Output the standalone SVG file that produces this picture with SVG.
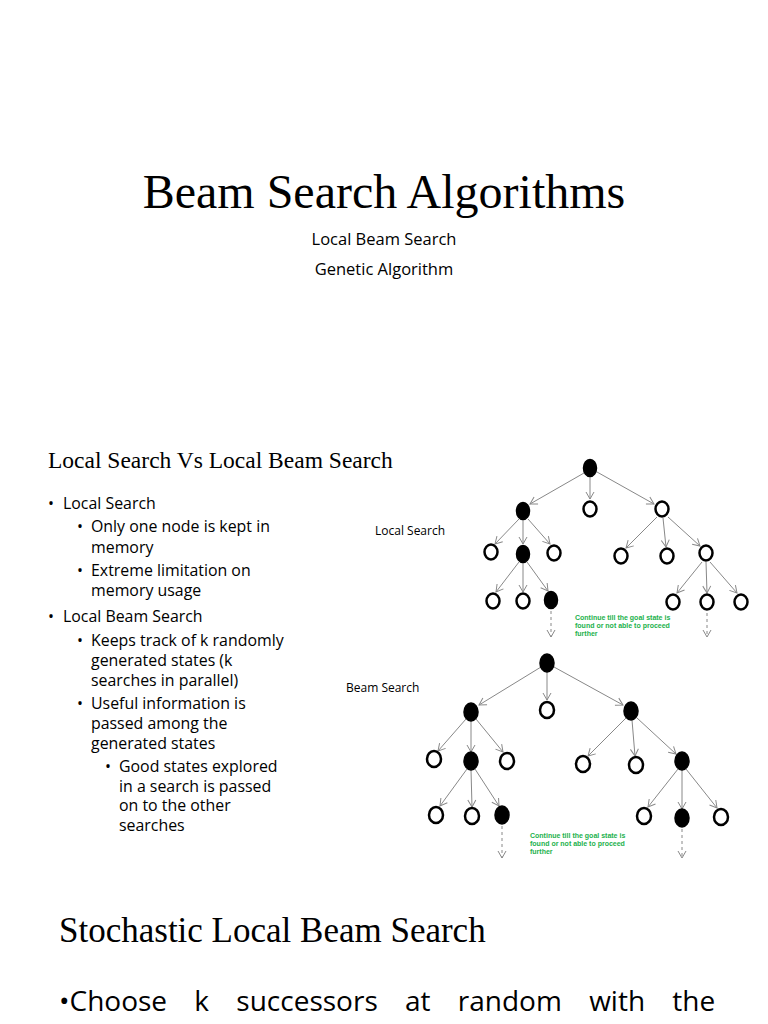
<svg xmlns="http://www.w3.org/2000/svg" width="768" height="1024" viewBox="0 0 768 1024">
<style>
.t{font-family:"Liberation Serif",serif;fill:#000}
.s{font-family:"Open Sans","Liberation Sans",sans-serif;fill:#000}
.f{fill:#000;stroke:#000;stroke-width:1.5}
.o{fill:#fff;stroke:#000;stroke-width:2.5}
.e{stroke:#888;stroke-width:1;fill:none;marker-end:url(#a)}
.d{stroke:#888;stroke-width:1;fill:none;stroke-dasharray:3,3;marker-end:url(#a)}
.g{font-family:"Liberation Sans",sans-serif;font-size:7px;font-weight:bold;fill:#22b14c}
</style>
<defs><marker id="a" markerWidth="10" markerHeight="10" refX="8" refY="5" orient="auto" markerUnits="userSpaceOnUse"><path d="M1,1 L8,5 L1,9" fill="none" stroke="#888" stroke-width="1"/></marker></defs>
<rect width="768" height="1024" fill="#fff"/>
<text class="t" x="384" y="208" font-size="48" text-anchor="middle">Beam Search Algorithms</text>
<text class="s" x="384" y="245" font-size="16.5" text-anchor="middle">Local Beam Search</text>
<text class="s" x="384" y="275" font-size="16.5" text-anchor="middle">Genetic Algorithm</text>
<text class="t" x="48" y="468" font-size="23.5">Local Search Vs Local Beam Search</text>
<g class="s" font-size="15.9">
<text x="48" y="509">•</text><text x="63" y="509">Local Search</text>
<text x="77" y="532">•</text><text x="91" y="532">Only one node is kept in</text>
<text x="91" y="553">memory</text>
<text x="77" y="576">•</text><text x="91" y="576">Extreme limitation on</text>
<text x="91" y="596">memory usage</text>
<text x="48" y="622">•</text><text x="63" y="622">Local Beam Search</text>
<text x="77" y="646">•</text><text x="91" y="646">Keeps track of k randomly</text>
<text x="91" y="666">generated states (k</text>
<text x="91" y="686">searches in parallel)</text>
<text x="77" y="709">•</text><text x="91" y="709">Useful information is</text>
<text x="91" y="729">passed among the</text>
<text x="91" y="749">generated states</text>
<text x="105" y="772">•</text><text x="119" y="772">Good states explored</text>
<text x="119" y="792">in a search is passed</text>
<text x="119" y="811">on to the other</text>
<text x="119" y="831">searches</text>
</g>
<text class="s" x="375" y="535" font-size="12">Local Search</text>
<text class="s" x="346" y="692" font-size="12">Beam Search</text>
<g id="edges">
<path class="e" d="M584,473 L530,504"/><path class="e" d="M590,477 L590,499"/><path class="e" d="M597,472 L654,504"/>
<path class="e" d="M519,519 L495,544"/><path class="e" d="M523,520 L523,544"/><path class="e" d="M528,519 L550,544"/>
<path class="e" d="M657,517 L626,548"/><path class="e" d="M663,518 L666,547"/><path class="e" d="M668,517 L700,546"/>
<path class="e" d="M519,562 L496,592"/><path class="e" d="M523,563 L523,592"/><path class="e" d="M527,562 L548,591"/>
<path class="e" d="M702,562 L677,593"/><path class="e" d="M706,562 L707,593"/><path class="e" d="M710,562 L737,593"/>
<path class="d" d="M551,611 L551,637"/><path class="d" d="M707,613 L707,637"/>
<path class="e" d="M541,667 L479,705"/><path class="e" d="M547,672 L547,700"/><path class="e" d="M554,667 L623,705"/>
<path class="e" d="M466,719 L438,751"/><path class="e" d="M471,721 L471,752"/><path class="e" d="M476,719 L503,752"/>
<path class="e" d="M626,718 L588,756"/><path class="e" d="M632,720 L635,756"/><path class="e" d="M637,718 L676,754"/>
<path class="e" d="M467,769 L440,806"/><path class="e" d="M471,770 L472,807"/><path class="e" d="M475,769 L499,806"/>
<path class="e" d="M678,769 L648,807"/><path class="e" d="M682,770 L682,809"/><path class="e" d="M686,769 L717,808"/>
<path class="d" d="M502,826 L502,858"/><path class="d" d="M682,829 L682,858"/>
</g>
<g id="n1"><ellipse class="f" cx="590" cy="468" rx="6.5" ry="8.5"/></g>
<g id="n2"><ellipse class="f" cx="523" cy="511" rx="6.5" ry="8.5"/></g>
<g id="n3"><ellipse class="o" cx="590" cy="509" rx="6.5" ry="7.5"/></g>
<g id="n4"><ellipse class="o" cx="662" cy="509" rx="6.5" ry="7.5"/></g>
<g id="n5"><ellipse class="o" cx="491" cy="552" rx="6.5" ry="7.5"/></g>
<g id="n6"><ellipse class="f" cx="523" cy="554" rx="6.5" ry="8.5"/></g>
<g id="n7"><ellipse class="o" cx="554" cy="553" rx="6.5" ry="7.5"/></g>
<g id="n8"><ellipse class="o" cx="621" cy="556" rx="6.5" ry="7.5"/></g>
<g id="n9"><ellipse class="o" cx="667" cy="556" rx="6.5" ry="7.5"/></g>
<g id="n10"><ellipse class="o" cx="706" cy="553" rx="6.5" ry="7.5"/></g>
<g id="n11"><ellipse class="o" cx="493" cy="601" rx="6.5" ry="7.5"/></g>
<g id="n12"><ellipse class="o" cx="523" cy="601" rx="6.5" ry="7.5"/></g>
<g id="n13"><ellipse class="f" cx="551" cy="600" rx="6.5" ry="8.5"/></g>
<g id="n14"><ellipse class="o" cx="673" cy="602" rx="6.5" ry="7.5"/></g>
<g id="n15"><ellipse class="o" cx="707" cy="602" rx="6.5" ry="7.5"/></g>
<g id="n16"><ellipse class="o" cx="741" cy="602" rx="6.5" ry="7.5"/></g>
<text class="g" x="575" y="620">Continue till the goal state is</text>
<text class="g" x="575" y="628">found or not able to proceed</text>
<text class="g" x="575" y="636">further</text>
<g id="m1"><ellipse class="f" cx="547" cy="663" rx="7" ry="9"/></g>
<g id="m2"><ellipse class="f" cx="471" cy="712" rx="7" ry="9"/></g>
<g id="m3"><ellipse class="o" cx="547" cy="710" rx="7" ry="8"/></g>
<g id="m4"><ellipse class="f" cx="631" cy="711" rx="7" ry="9"/></g>
<g id="m5"><ellipse class="o" cx="434" cy="759" rx="7" ry="8"/></g>
<g id="m6"><ellipse class="f" cx="471" cy="761" rx="7" ry="9"/></g>
<g id="m7"><ellipse class="o" cx="507" cy="761" rx="7" ry="8"/></g>
<g id="m8"><ellipse class="o" cx="583" cy="764" rx="7" ry="8"/></g>
<g id="m9"><ellipse class="o" cx="636" cy="765" rx="7" ry="8"/></g>
<g id="m10"><ellipse class="f" cx="682" cy="761" rx="7" ry="9"/></g>
<g id="m11"><ellipse class="o" cx="436" cy="815" rx="7" ry="8"/></g>
<g id="m12"><ellipse class="o" cx="472" cy="816" rx="7" ry="8"/></g>
<g id="m13"><ellipse class="f" cx="502" cy="815" rx="7" ry="9"/></g>
<g id="m14"><ellipse class="o" cx="644" cy="816" rx="7" ry="8"/></g>
<g id="m15"><ellipse class="f" cx="682" cy="818" rx="7" ry="9"/></g>
<g id="m16"><ellipse class="o" cx="721" cy="817" rx="7" ry="8"/></g>
<text class="g" x="530" y="838">Continue till the goal state is</text>
<text class="g" x="530" y="846">found or not able to proceed</text>
<text class="g" x="530" y="854">further</text>
<text class="t" x="59" y="942" font-size="35">Stochastic Local Beam Search</text>
<text class="s" x="59" y="1011" font-size="28" word-spacing="20">•Choose k successors at random with the</text>
</svg>
